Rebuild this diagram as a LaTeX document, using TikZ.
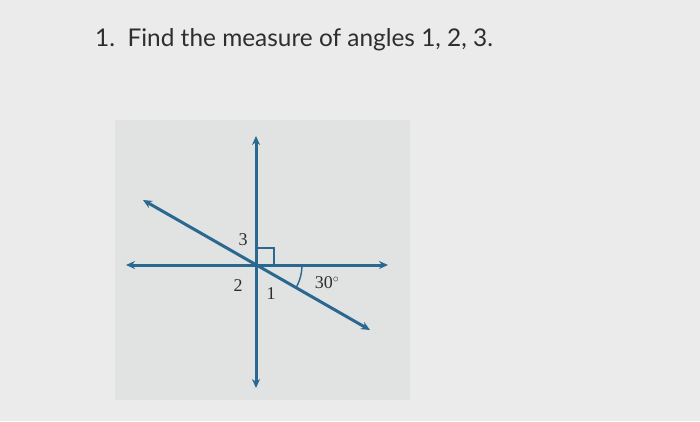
\documentclass[tikz,border=0pt]{standalone}
\usepackage{fontspec}
\setmainfont{Liberation Serif}
\newfontfamily\titlefont{Lato}
\usetikzlibrary{arrows.meta,calc}
\definecolor{bg}{HTML}{EBEBEB}
\definecolor{panel}{HTML}{E1E2E2}
\definecolor{ln}{HTML}{2A6890}
\definecolor{txt}{HTML}{2E2E2E}
\begin{document}
\begin{tikzpicture}[x=1pt,y=-1pt,
  axis/.style={draw=ln,line width=3pt,{Stealth[length=9pt,width=8pt]}-{Stealth[length=9pt,width=8pt]}},
  lbl/.style={font=\fontsize{18}{18}\selectfont,text=txt,inner sep=0pt}]
\fill[bg] (0,0) rectangle (700,421);
\useasboundingbox (0,0) rectangle (700,421);
\fill[panel] (115,120) rectangle (410,400);
\node[anchor=base west,font=\titlefont\fontsize{24.4}{24.4}\selectfont,text=txt,inner sep=0pt] (title) at (95,46) {1.\ \ Find the measure of angles 1, 2, 3.};
\coordinate (O) at (256,265);
\coordinate (T) at (256,136);
\coordinate (B) at (256,388);
\coordinate (L) at (126,265);
\coordinate (R) at (388,265);
\coordinate (DL) at (143,200);
\coordinate (DR) at (370,330);
\draw[axis] (B) -- (T);
\draw[axis] (L) -- (R);
\draw[axis] (DL) -- (DR);
\draw[ln,line width=1.4pt] (256,248) -- (274,248) -- (274,265);
\draw[ln,line width=1.4pt] ($(O)+(46,0)$) arc[start angle=0,end angle=30,radius=46];
\node[lbl] (a3) at (243,240) {3};
\node[lbl] (a2) at (238,286) {2};
\node[lbl] (a1) at (271,294) {1};
\node[lbl] (a30) at (327,283) {30$^\circ$};
\end{tikzpicture}
\end{document}
